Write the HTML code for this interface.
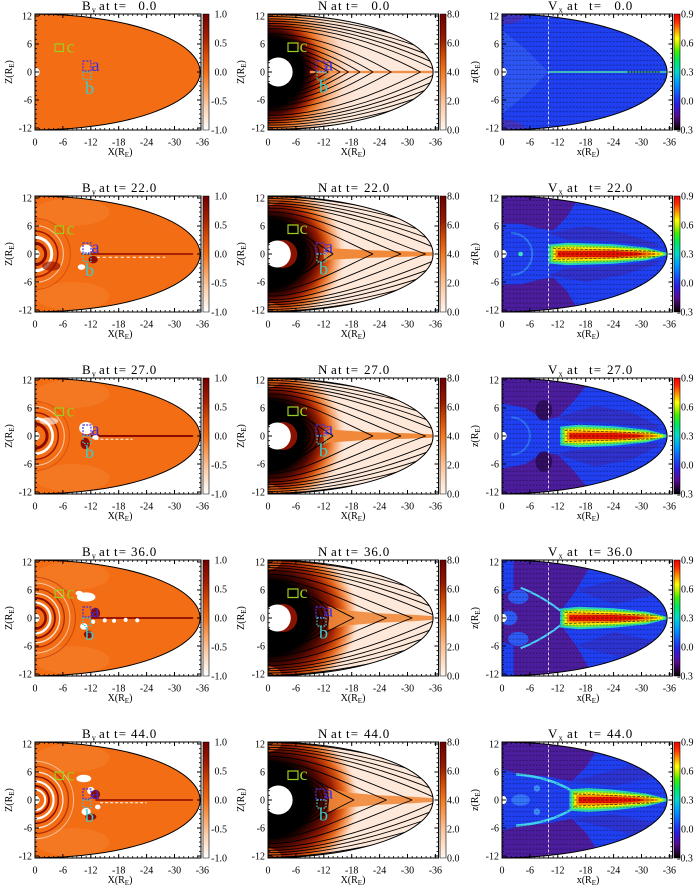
<!DOCTYPE html>
<html><head><meta charset="utf-8"><style>
html,body{margin:0;padding:0;background:#fff}
svg{display:block}
svg *{vector-effect:non-scaling-stroke}
text{font-family:"Liberation Serif","DejaVu Serif",serif;fill:#000;stroke:none}
.k{font-size:10px}
.m{text-anchor:middle}
.e{text-anchor:end}
.ti{font-size:13px;letter-spacing:1.2px}
.nu{font-size:13px;letter-spacing:0.8px;text-anchor:end}
.sb{font-size:8px;letter-spacing:0}
.lt{font-size:18px}
</style></head><body>
<svg width="700" height="885" viewBox="0 0 700 885" xmlns="http://www.w3.org/2000/svg">
<defs>
<clipPath id="ell"><path d="M0,-12.4 A35.5,12.4 0 0 1 35.5,0 A35.5,12.4 0 0 1 0,12.4 Z"/></clipPath>
<path id="ol" d="M0,-12.4 A35.5,12.4 0 0 1 35.5,0 A35.5,12.4 0 0 1 0,12.4" fill="none" stroke="#000" stroke-width="1"/>
<linearGradient id="cbBy" x1="0" y1="1" x2="0" y2="0">
<stop offset="0" stop-color="#ffffff"/><stop offset=".2" stop-color="#fcd0ae"/><stop offset=".35" stop-color="#f8a060"/><stop offset=".5" stop-color="#f36d14"/><stop offset=".65" stop-color="#d84a06"/><stop offset=".8" stop-color="#a82000"/><stop offset="1" stop-color="#700000"/>
</linearGradient>
<linearGradient id="cbN" x1="0" y1="1" x2="0" y2="0">
<stop offset="0" stop-color="#fff6f0"/><stop offset=".25" stop-color="#fbc39a"/><stop offset=".5" stop-color="#f27a22"/><stop offset=".65" stop-color="#cc4a08"/><stop offset=".8" stop-color="#961800"/><stop offset="1" stop-color="#6a0000"/>
</linearGradient>
<linearGradient id="cbV" x1="0" y1="1" x2="0" y2="0">
<stop offset="0" stop-color="#000"/><stop offset=".12" stop-color="#5a0a90"/><stop offset=".22" stop-color="#2a1ee0"/><stop offset=".28" stop-color="#1a40f5"/><stop offset=".4" stop-color="#0098ff"/><stop offset=".5" stop-color="#00d8d0"/><stop offset=".6" stop-color="#00e860"/><stop offset=".68" stop-color="#40f000"/><stop offset=".74" stop-color="#c0f000"/><stop offset=".79" stop-color="#ffff00"/><stop offset=".86" stop-color="#ff9a00"/><stop offset=".93" stop-color="#ff3000"/><stop offset="1" stop-color="#f00000"/>
</linearGradient>
<radialGradient id="n0" gradientUnits="userSpaceOnUse" cx="0" cy="0" r="20">
<stop offset="0" stop-color="#000"/><stop offset=".38" stop-color="#000"/><stop offset=".46" stop-color="#4a0500"/><stop offset=".53" stop-color="#a82600"/><stop offset=".6" stop-color="#e46a1c"/><stop offset=".7" stop-color="#f6ad7a"/><stop offset=".82" stop-color="#fcdcc8"/><stop offset="1" stop-color="#fde9dc"/>
</radialGradient>
<radialGradient id="n1" gradientUnits="userSpaceOnUse" cx="0" cy="0" r="16" gradientTransform="scale(1.05,1)">
<stop offset="0" stop-color="#000"/><stop offset=".47" stop-color="#000"/><stop offset=".58" stop-color="#4a0600"/><stop offset=".68" stop-color="#9a1e00"/><stop offset=".77" stop-color="#dc5a12"/><stop offset=".86" stop-color="#f5a066"/><stop offset=".95" stop-color="#fcdcc6"/><stop offset="1" stop-color="#fde8da"/>
</radialGradient>
<radialGradient id="n2" gradientUnits="userSpaceOnUse" cx="0" cy="0" r="17" gradientTransform="scale(1.15,1)">
<stop offset="0" stop-color="#000"/><stop offset=".47" stop-color="#000"/><stop offset=".6" stop-color="#4a0600"/><stop offset=".72" stop-color="#9a1e00"/><stop offset=".82" stop-color="#dc5a12"/><stop offset=".9" stop-color="#f5a066"/><stop offset=".97" stop-color="#fcdcc6"/><stop offset="1" stop-color="#fde8da"/>
</radialGradient>
<pattern id="arr" patternUnits="userSpaceOnUse" width="0.72" height="1"><rect x="0.1" y="0.45" width="0.38" height="0.14" fill="#000" fill-opacity="0.55"/></pattern>

<g id="fl0" fill="none" stroke="#000" stroke-width="0.9">
<g id="fl0u">
<path d="M0,-3.5 C3.71,-3.5 7.42,-1.93 10.6,0"/>
<path d="M0,-4.3 C4.55,-4.3 9.1,-2.37 13,0"/>
<path d="M0,-5.1 C5.43,-5.1 10.85,-2.81 15.5,0"/>
<path d="M0,-5.8 C6.06,-5.8 12.11,-3.19 17.3,0"/>
<path d="M0,-6.5 C6.93,-6.5 13.86,-3.58 19.8,0"/>
<path d="M0,-7.3 C7.91,-7.3 15.82,-4.02 22.6,0"/>
<path d="M0,-8.2 C9.28,-8.2 18.55,-4.51 26.5,0"/>
<path d="M0,-9.3 C11.48,-9.3 22.96,-5.12 32.8,0"/>
<path d="M0,-9.9 C12.95,-9.9 25.9,-5.45 37,0"/>
<path d="M0,-10.4 C14,-10.4 28,-5.72 40,0"/>
<path d="M0,-10.9 C15.05,-10.9 30.1,-6 43,0"/>
<path d="M0,-11.4 C16.1,-11.4 32.2,-6.27 46,0"/>
<path d="M0,-11.9 C17.5,-11.9 35,-6.55 50,0"/>
<path d="M0,-12.3 C19.25,-12.3 38.5,-6.77 55,0"/>
</g>
<use href="#fl0u" transform="scale(1,-1)"/>
</g>

<g id="fl1" fill="none" stroke="#000" stroke-width="0.9">
<g id="fl1u">
<path d="M0,0 C0.48,-2.4 4,-1.72 4,0"/>
<path d="M0,0 C0.6,-3 5,-2.15 5,0"/>
<path d="M0,0 C0.72,-3.6 6,-2.58 6,0"/>
<path d="M0,0 C0.84,-4.2 7,-3.01 7,0"/>
<path d="M0,0 C0.96,-4.8 8,-3.44 8,0"/>
<path d="M0,0 C1.08,-5.4 9,-3.87 9,0"/>
<path d="M0,0 C1.2,-6 10,-4.3 10,0"/>
<path d="M0,0 C1.32,-6.6 11,-4.73 11,0"/>
<path d="M0,-7 C4.2,-7.35 10.5,-2.1 14,0"/>
<path d="M0,-8 C6.78,-8.4 16.95,-2.4 22.6,0"/>
<path d="M0,-9 C8.58,-9.45 21.45,-2.7 28.6,0"/>
<path d="M0,-9.8 C10.17,-10.29 25.43,-2.94 33.9,0"/>
<path d="M0,-10.4 C11.7,-10.4 27.3,-5.2 39,0"/>
<path d="M0,-10.9 C12.9,-10.9 30.1,-5.45 43,0"/>
<path d="M0,-11.4 C14.1,-11.4 32.9,-5.7 47,0"/>
<path d="M0,-11.9 C15.6,-11.9 36.4,-5.95 52,0"/>
<path d="M0,-12.3 C17.4,-12.3 40.6,-6.15 58,0"/>
</g>
<use href="#fl1u" transform="scale(1,-1)"/>
</g>

<g id="fl2" fill="none" stroke="#000" stroke-width="0.9">
<g id="fl2u">
<path d="M0,0 C0.48,-2.4 4,-1.72 4,0"/>
<path d="M0,0 C0.6,-3 5,-2.15 5,0"/>
<path d="M0,0 C0.72,-3.6 6,-2.58 6,0"/>
<path d="M0,0 C0.84,-4.2 7,-3.01 7,0"/>
<path d="M0,0 C0.96,-4.8 8,-3.44 8,0"/>
<path d="M0,0 C1.08,-5.4 9,-3.87 9,0"/>
<path d="M0,0 C1.2,-6 10,-4.3 10,0"/>
<path d="M0,0 C1.32,-6.6 11,-4.73 11,0"/>
<path d="M0,0 C1.44,-7.2 12,-5.16 12,0"/>
<path d="M0,0 C1.56,-7.8 13,-5.59 13,0"/>
<path d="M0,-7 C5.55,-7.35 13.88,-2.1 18.5,0"/>
<path d="M0,-8.2 C7.65,-8.61 19.13,-2.46 25.5,0"/>
<path d="M0,-9.3 C9.3,-9.77 23.25,-2.79 31,0"/>
<path d="M0,-10.2 C11.1,-10.2 25.9,-5.1 37,0"/>
<path d="M0,-10.8 C12.3,-10.8 28.7,-5.4 41,0"/>
<path d="M0,-11.3 C13.5,-11.3 31.5,-5.65 45,0"/>
<path d="M0,-11.8 C15,-11.8 35,-5.9 50,0"/>
<path d="M0,-12.3 C16.8,-12.3 39.2,-6.15 56,0"/>
</g>
<use href="#fl2u" transform="scale(1,-1)"/>
</g>

<g id="j10">
<polygon points="10,-2 14,-2.4 24,-2.1 31,-1.4 35.4,-0.3 35.4,0.3 31,1.4 24,2.1 14,2.4 10,2" fill="#28d0c0"/>
<polygon points="10.5,-1.7 14,-2 24,-1.7 31,-1.1 35,-0.25 35,0.25 31,1.1 24,1.7 14,2 10.5,1.7" fill="#70f040"/>
<polygon points="11,-1.4 14,-1.6 24,-1.3 31,-0.8 34.5,-0.2 34.5,0.2 31,0.8 24,1.3 14,1.6 11,1.4" fill="#fff000"/>
<polygon points="11.5,-1 24,-1 30,-0.6 33,-0.15 33,0.15 30,0.6 24,1 11.5,1" fill="#ff8a00"/>
<polygon points="12,-0.6 24,-0.65 29,-0.35 31,0 29,0.35 24,0.65 12,0.6" fill="#f01400"/>
<path d="M11,-1.2 L33,-0.6 M11,1.2 L33,0.6 M11,0 L34,0" fill="none" stroke="#000" stroke-width="0.8" stroke-dasharray="3 1.5" opacity=".7"/>
</g>
<g id="j125">
<polygon points="12.5,-2 16.5,-2.4 24,-2.1 31,-1.4 35.4,-0.3 35.4,0.3 31,1.4 24,2.1 16.5,2.4 12.5,2" fill="#28d0c0"/>
<polygon points="13,-1.7 16.5,-2 24,-1.7 31,-1.1 35,-0.25 35,0.25 31,1.1 24,1.7 16.5,2 13,1.7" fill="#70f040"/>
<polygon points="13.5,-1.4 16.5,-1.6 24,-1.3 31,-0.8 34.5,-0.2 34.5,0.2 31,0.8 24,1.3 16.5,1.6 13.5,1.4" fill="#fff000"/>
<polygon points="14,-1 24,-1 30,-0.6 33,-0.15 33,0.15 30,0.6 24,1 14,1" fill="#ff8a00"/>
<polygon points="14.5,-0.6 24,-0.65 29,-0.35 31,0 29,0.35 24,0.65 14.5,0.6" fill="#f01400"/>
<path d="M13.5,-1.2 L33,-0.6 M13.5,1.2 L33,0.6 M13.5,0 L34,0" fill="none" stroke="#000" stroke-width="0.8" stroke-dasharray="3 1.5" opacity=".7"/>
</g>
<g id="j145">
<polygon points="14.5,-2.3 18.5,-2.6 24,-2.2 31,-1.4 35.4,-0.3 35.4,0.3 31,1.4 24,2.2 18.5,2.6 14.5,2.3" fill="#28d0c0"/>
<polygon points="15,-1.9 18.5,-2.1 24,-1.8 31,-1.1 35,-0.25 35,0.25 31,1.1 24,1.8 18.5,2.1 15,1.9" fill="#70f040"/>
<polygon points="15.5,-1.5 18.5,-1.7 24,-1.4 31,-0.8 34.5,-0.2 34.5,0.2 31,0.8 24,1.4 18.5,1.7 15.5,1.5" fill="#fff000"/>
<polygon points="16,-1.1 24,-1.05 30,-0.6 33,-0.15 33,0.15 30,0.6 24,1.05 16,1.1" fill="#ff8a00"/>
<polygon points="16.5,-0.65 24,-0.65 29,-0.35 31,0 29,0.35 24,0.65 16.5,0.65" fill="#f01400"/>
<path d="M15.5,-1.3 L33,-0.6 M15.5,1.3 L33,0.6 M15.5,0 L34,0" fill="none" stroke="#000" stroke-width="0.8" stroke-dasharray="3 1.5" opacity=".7"/>
</g>

<g id="fr1" fill="none" stroke="#000">
<rect x="35" y="14" width="166" height="116" stroke-width="1"/>
<path d="M34.6,15 H201 M34.6,129 H201" stroke-width="2" stroke-dasharray="0.8 3.85"/>
<path d="M34.5,16 H201 M34.5,128 H201" stroke-width="4" stroke-dasharray="1 26.9"/>
<path d="M36,15.6 V129 M200,15.6 V129" stroke-width="2" stroke-dasharray="0.8 3.867"/>
<path d="M37,15.5 V129 M199,15.5 V129" stroke-width="4" stroke-dasharray="1 27"/>
<rect x="203" y="14" width="6" height="116" fill="url(#cbBy)" stroke-width="0.6"/>
</g>
<g id="fr2" fill="none" stroke="#000">
<rect x="268" y="14" width="170.5" height="116" stroke-width="1"/>
<path d="M267.6,15 H438.5 M267.6,129 H438.5" stroke-width="2" stroke-dasharray="0.8 3.85"/>
<path d="M267.5,16 H438.5 M267.5,128 H438.5" stroke-width="4" stroke-dasharray="1 26.9"/>
<path d="M269,15.6 V129 M437.5,15.6 V129" stroke-width="2" stroke-dasharray="0.8 3.867"/>
<path d="M270,15.5 V129 M436.5,15.5 V129" stroke-width="4" stroke-dasharray="1 27"/>
<rect x="440" y="14" width="6" height="116" fill="url(#cbN)" stroke-width="0.6"/>
</g>
<g id="fr3" fill="none" stroke="#000">
<rect x="502" y="14" width="170.5" height="116" stroke-width="1"/>
<path d="M501.6,15 H672.5 M501.6,129 H672.5" stroke-width="2" stroke-dasharray="0.8 3.85"/>
<path d="M501.5,16 H672.5 M501.5,128 H672.5" stroke-width="4" stroke-dasharray="1 26.9"/>
<path d="M503,15.6 V129 M671.5,15.6 V129" stroke-width="2" stroke-dasharray="0.8 3.867"/>
<path d="M504,15.5 V129 M670.5,15.5 V129" stroke-width="4" stroke-dasharray="1 27"/>
<rect x="674" y="14" width="6" height="116" fill="url(#cbV)" stroke-width="0.6"/>
</g>
<g id="mk1">
<g fill="none" stroke-width="1.2">
<rect x="55" y="44" width="8.5" height="7.5" stroke="#9ccc1c"/>
<rect x="83" y="61" width="8" height="10" stroke="#4a30d8" stroke-dasharray="2 1.2"/>
<rect x="83" y="72" width="8" height="7.5" stroke="#40c8c8" stroke-dasharray="1.5 1.5"/>
</g>
</g>
<g id="mk2">
<g fill="none" stroke-width="1.2">
<rect x="288" y="43" width="10" height="8.5" stroke="#9ccc1c"/>
<rect x="316" y="61" width="9" height="10.5" stroke="#4a30d8" stroke-dasharray="2 1.2"/>
<rect x="317" y="72" width="9" height="8" stroke="#40c8c8" stroke-dasharray="1.5 1.5"/>
</g>
</g>
</defs>

<!-- ================= ROW 1 t=0 ================= -->
<g transform="translate(0,0)">
<g transform="translate(35,72) scale(4.65,4.667)"><g clip-path="url(#ell)">
<rect x="0" y="-13" width="37" height="26" fill="#f36d14"/>
<circle r="1" fill="#fff"/>
</g><use href="#ol"/></g>
<g transform="translate(268,72) scale(4.65,4.667)"><g clip-path="url(#ell)">
<rect x="0" y="-13" width="37" height="26" fill="url(#n0)"/>
<rect x="9" y="-0.25" width="28" height="0.5" fill="#f39048"/>
<use href="#fl0"/>
<circle cx="2.2" cy="0" r="3.1" fill="#fff"/>
</g><use href="#ol"/></g>
<g transform="translate(502,72) scale(4.65,4.667)"><g clip-path="url(#ell)">
<rect x="0" y="-13" width="37" height="26" fill="#1f3ff0"/>
<polygon points="0,-9 5,-5 10,0 5,5 0,9" fill="#3a6cf8" opacity=".5"/>
<ellipse cx="0" cy="-12.4" rx="5" ry="2.2" fill="#5a2aa0" opacity=".6"/>
<ellipse cx="0" cy="12.4" rx="5" ry="2.2" fill="#5a2aa0" opacity=".6"/>
<path d="M10,0 H35.5" fill="none" stroke="#48e0a8" stroke-width="1.4"/>
<path d="M27,0 H34" fill="none" stroke="#000" stroke-width="1" stroke-dasharray="2 1"/>
<rect x="0" y="-13" width="37" height="26" fill="url(#arr)"/>
<path d="M10,-13 V13" fill="none" stroke="#fff" stroke-width="0.9" stroke-dasharray="3 2" opacity=".85"/>
<circle r="1" fill="#fff"/>
</g><use href="#ol"/></g>
<use href="#fr1"/><use href="#fr2"/><use href="#fr3"/><use href="#mk1"/><use href="#mk2"/>
<text class="lt" x="66.5" y="52.5" style="fill:#9ccc1c">c</text><text class="lt" x="91.5" y="71" style="fill:#3a2ee0">a</text><text class="lt" x="85" y="94" style="fill:#3ccccc">b</text>
<text class="lt" x="299.5" y="52" style="fill:#9ccc1c">c</text><text class="lt" x="325" y="70.5" style="fill:#3a2ee0">a</text><text class="lt" x="319" y="92.5" style="fill:#3ccccc">b</text>
<text class="ti" x="82" y="10">B<tspan class="sb" dy="2.5">y</tspan><tspan dy="-2.5" x="99">at</tspan><tspan x="114">t=</tspan></text><text class="nu" x="157" y="10">0.0</text>
<text class="ti" x="318" y="10">N<tspan x="331">at</tspan><tspan x="346">t=</tspan></text><text class="nu" x="390" y="10">0.0</text>
<text class="ti" x="548" y="10">V<tspan class="sb" dy="2.5">x</tspan><tspan dy="-2.5" x="567">at</tspan><tspan x="589">t=</tspan></text><text class="nu" x="633" y="10">0.0</text>
<g class="k">
<text class="m" x="35" y="145.5">0</text><text class="m" x="62.9" y="145.5">-6</text><text class="m" x="90.8" y="145.5">-12</text><text class="m" x="118.7" y="145.5">-18</text><text class="m" x="146.6" y="145.5">-24</text><text class="m" x="174.5" y="145.5">-30</text><text class="m" x="202.4" y="145.5">-36</text>
<text class="e" x="32" y="19.5">12</text><text class="e" x="32" y="47.5">6</text><text class="e" x="32" y="75.5">0</text><text class="e" x="32" y="103.5">-6</text><text class="e" x="32" y="131.5">-12</text>
<text class="e" x="227" y="17.5">1.0</text><text class="e" x="227" y="46.5">0.5</text><text class="e" x="227" y="75.5">0.0</text><text class="e" x="227" y="104.5">-0.5</text><text class="e" x="227" y="133.5">-1.0</text>
<text class="m" x="120" y="155">X(R<tspan font-size="7" dy="2">E</tspan><tspan dy="-2">)</tspan></text>
<text class="m" transform="translate(12,72) rotate(-90)">Z(R<tspan font-size="7" dy="2">E</tspan><tspan dy="-2">)</tspan></text>
<text class="m" x="268" y="145.5">0</text><text class="m" x="295.9" y="145.5">-6</text><text class="m" x="323.8" y="145.5">-12</text><text class="m" x="351.7" y="145.5">-18</text><text class="m" x="379.6" y="145.5">-24</text><text class="m" x="407.5" y="145.5">-30</text><text class="m" x="435.4" y="145.5">-36</text>
<text class="e" x="265" y="19.5">12</text><text class="e" x="265" y="47.5">6</text><text class="e" x="265" y="75.5">0</text><text class="e" x="265" y="103.5">-6</text><text class="e" x="265" y="131.5">-12</text>
<text x="447" y="17.5">8.0</text><text x="447" y="46.5">6.0</text><text x="447" y="75.5">4.0</text><text x="447" y="104.5">2.0</text><text x="447" y="133.5">0.0</text>
<text class="m" x="353" y="155">X(R<tspan font-size="7" dy="2">E</tspan><tspan dy="-2">)</tspan></text>
<text class="m" transform="translate(244,72) rotate(-90)">Z(R<tspan font-size="7" dy="2">E</tspan><tspan dy="-2">)</tspan></text>
<text class="m" x="502" y="145.5">0</text><text class="m" x="529.9" y="145.5">-6</text><text class="m" x="557.8" y="145.5">-12</text><text class="m" x="585.7" y="145.5">-18</text><text class="m" x="613.6" y="145.5">-24</text><text class="m" x="641.5" y="145.5">-30</text><text class="m" x="669.4" y="145.5">-36</text>
<text class="e" x="499" y="19.5">12</text><text class="e" x="499" y="47.5">6</text><text class="e" x="499" y="75.5">0</text><text class="e" x="499" y="103.5">-6</text><text class="e" x="499" y="131.5">-12</text>
<text x="681" y="17.5">0.9</text><text x="681" y="46.5">0.6</text><text x="681" y="75.5">0.3</text><text x="681" y="104.5">0.0</text><text x="677" y="133.5">-0.3</text>
<text class="m" x="588" y="155">x(R<tspan font-size="7" dy="2">E</tspan><tspan dy="-2">)</tspan></text>
<text class="m" transform="translate(478,72) rotate(-90)">z(R<tspan font-size="7" dy="2">E</tspan><tspan dy="-2">)</tspan></text>
</g>
</g>

<!-- ================= ROW 2 t=22 ================= -->
<g transform="translate(0,182)">
<g transform="translate(35,72) scale(4.65,4.667)"><g clip-path="url(#ell)">
<rect x="0" y="-13" width="37" height="26" fill="#f36d14"/>
<ellipse cx="8" cy="-9" rx="8" ry="3" fill="#f58a3c" opacity=".35"/>
<ellipse cx="8" cy="9" rx="8" ry="3" fill="#f58a3c" opacity=".35"/>
<g fill="none">
<path d="M0,-2.3A2.3,2.3 0 0 1 0,2.3" stroke="#8c0a00" stroke-width="3"/>
<path d="M0,-3.6A3.6,3.6 0 0 1 0,3.6" stroke="#fff" stroke-width="3"/>
<path d="M0,-4.9A4.9,4.9 0 0 1 0,4.9" stroke="#a01800" stroke-width="1.6"/>
<path d="M0,-6.1A6.1,6.1 0 0 1 0,6.1" stroke="#fff" stroke-width="1.1" opacity=".6"/>
<path d="M0,-7.6A7.6,7.6 0 0 1 0,7.6" stroke="#c03000" stroke-width="1" opacity=".5"/>
<path d="M10,0H34" stroke="#8c0a00" stroke-width="1.6"/>
<path d="M12,0.7H28" stroke="#fff" stroke-width="1" stroke-dasharray="3 3"/>
</g>
<ellipse cx="11" cy="-1" rx="1.3" ry="1" fill="#fff"/>
<ellipse cx="12.5" cy="1.2" rx="1" ry="0.8" fill="#8c0a00"/>
<ellipse cx="10" cy="2.8" rx="0.8" ry="0.6" fill="#fff"/>
<ellipse cx="3.5" cy="2.6" rx="2" ry="1" fill="#9a1400" opacity=".7"/>
<circle r="1" fill="#fff"/>
</g><use href="#ol"/></g>
<g transform="translate(268,72) scale(4.65,4.667)"><g clip-path="url(#ell)">
<rect x="0" y="-13" width="37" height="26" fill="url(#n1)"/>
<ellipse cx="0" cy="-12.4" rx="3" ry="2" fill="#e06018" opacity=".8"/>
<ellipse cx="0" cy="12.4" rx="3" ry="2" fill="#e06018" opacity=".8"/>
<polygon points="12,-1.3 16,-1.1 22,-0.8 30,-0.6 35.5,-0.35 35.5,0.35 30,0.6 22,0.8 16,1.1 12,1.3" fill="#f08a3a"/>
<use href="#fl1"/>
<circle cx="3.3" cy="0" r="3" fill="#8a1200"/>
<circle cx="2" cy="0" r="2.9" fill="#fff"/>
</g><use href="#ol"/></g>
<g transform="translate(502,72) scale(4.65,4.667)"><g clip-path="url(#ell)">
<rect x="0" y="-13" width="37" height="26" fill="#1f3ff0"/>
<path d="M0,-13H17L14,-8L11,-5L8,-5.5L4,-6.5L0,-6.5Z" fill="#4b1d9c"/>
<path d="M0,13H17L14,8L11,5L8,5.5L4,6.5L0,6.5Z" fill="#4b1d9c"/>
<path d="M10,-4.5L18,-6L26,-4.5L34,-2L33,-1.5L24,-2.6L14,-3Z" fill="#3a28b0" opacity=".6"/>
<path d="M10,4.5L18,6L26,4.5L34,2L33,1.5L24,2.6L14,3Z" fill="#3a28b0" opacity=".6"/>
<path d="M2,-4.5A4.5,4.5 0 0 1 2,4.5" fill="none" stroke="#3aa0ff" stroke-width="2" opacity=".6"/>
<circle cx="4" cy="0" r=".5" fill="#40e0c0"/>
<use href="#j10"/>
<rect x="0" y="-13" width="37" height="26" fill="url(#arr)"/>
<path d="M10,-13 V13" fill="none" stroke="#fff" stroke-width="0.9" stroke-dasharray="3 2" opacity=".85"/>
<circle r="1" fill="#fff"/>
</g><use href="#ol"/></g>
<use href="#fr1"/><use href="#fr2"/><use href="#fr3"/><use href="#mk1"/><use href="#mk2"/>
<text class="lt" x="66.5" y="52.5" style="fill:#9ccc1c">c</text><text class="lt" x="91.5" y="71" style="fill:#3a2ee0">a</text><text class="lt" x="85" y="94" style="fill:#3ccccc">b</text>
<text class="lt" x="299.5" y="52" style="fill:#9ccc1c">c</text><text class="lt" x="325" y="70.5" style="fill:#3a2ee0">a</text><text class="lt" x="319" y="92.5" style="fill:#3ccccc">b</text>
<text class="ti" x="82" y="10">B<tspan class="sb" dy="2.5">y</tspan><tspan dy="-2.5" x="99">at</tspan><tspan x="114">t=</tspan></text><text class="nu" x="157" y="10">22.0</text>
<text class="ti" x="318" y="10">N<tspan x="331">at</tspan><tspan x="346">t=</tspan></text><text class="nu" x="390" y="10">22.0</text>
<text class="ti" x="548" y="10">V<tspan class="sb" dy="2.5">x</tspan><tspan dy="-2.5" x="567">at</tspan><tspan x="589">t=</tspan></text><text class="nu" x="633" y="10">22.0</text>
<g class="k">
<text class="m" x="35" y="145.5">0</text><text class="m" x="62.9" y="145.5">-6</text><text class="m" x="90.8" y="145.5">-12</text><text class="m" x="118.7" y="145.5">-18</text><text class="m" x="146.6" y="145.5">-24</text><text class="m" x="174.5" y="145.5">-30</text><text class="m" x="202.4" y="145.5">-36</text>
<text class="e" x="32" y="19.5">12</text><text class="e" x="32" y="47.5">6</text><text class="e" x="32" y="75.5">0</text><text class="e" x="32" y="103.5">-6</text><text class="e" x="32" y="131.5">-12</text>
<text class="e" x="227" y="17.5">1.0</text><text class="e" x="227" y="46.5">0.5</text><text class="e" x="227" y="75.5">0.0</text><text class="e" x="227" y="104.5">-0.5</text><text class="e" x="227" y="133.5">-1.0</text>
<text class="m" x="120" y="155">X(R<tspan font-size="7" dy="2">E</tspan><tspan dy="-2">)</tspan></text>
<text class="m" transform="translate(12,72) rotate(-90)">Z(R<tspan font-size="7" dy="2">E</tspan><tspan dy="-2">)</tspan></text>
<text class="m" x="268" y="145.5">0</text><text class="m" x="295.9" y="145.5">-6</text><text class="m" x="323.8" y="145.5">-12</text><text class="m" x="351.7" y="145.5">-18</text><text class="m" x="379.6" y="145.5">-24</text><text class="m" x="407.5" y="145.5">-30</text><text class="m" x="435.4" y="145.5">-36</text>
<text class="e" x="265" y="19.5">12</text><text class="e" x="265" y="47.5">6</text><text class="e" x="265" y="75.5">0</text><text class="e" x="265" y="103.5">-6</text><text class="e" x="265" y="131.5">-12</text>
<text x="447" y="17.5">8.0</text><text x="447" y="46.5">6.0</text><text x="447" y="75.5">4.0</text><text x="447" y="104.5">2.0</text><text x="447" y="133.5">0.0</text>
<text class="m" x="353" y="155">X(R<tspan font-size="7" dy="2">E</tspan><tspan dy="-2">)</tspan></text>
<text class="m" transform="translate(244,72) rotate(-90)">Z(R<tspan font-size="7" dy="2">E</tspan><tspan dy="-2">)</tspan></text>
<text class="m" x="502" y="145.5">0</text><text class="m" x="529.9" y="145.5">-6</text><text class="m" x="557.8" y="145.5">-12</text><text class="m" x="585.7" y="145.5">-18</text><text class="m" x="613.6" y="145.5">-24</text><text class="m" x="641.5" y="145.5">-30</text><text class="m" x="669.4" y="145.5">-36</text>
<text class="e" x="499" y="19.5">12</text><text class="e" x="499" y="47.5">6</text><text class="e" x="499" y="75.5">0</text><text class="e" x="499" y="103.5">-6</text><text class="e" x="499" y="131.5">-12</text>
<text x="681" y="17.5">0.9</text><text x="681" y="46.5">0.6</text><text x="681" y="75.5">0.3</text><text x="681" y="104.5">0.0</text><text x="677" y="133.5">-0.3</text>
<text class="m" x="588" y="155">x(R<tspan font-size="7" dy="2">E</tspan><tspan dy="-2">)</tspan></text>
<text class="m" transform="translate(478,72) rotate(-90)">z(R<tspan font-size="7" dy="2">E</tspan><tspan dy="-2">)</tspan></text>
</g>
</g>

<!-- ================= ROW 3 t=27 ================= -->
<g transform="translate(0,364)">
<g transform="translate(35,72) scale(4.65,4.667)"><g clip-path="url(#ell)">
<rect x="0" y="-13" width="37" height="26" fill="#f36d14"/>
<ellipse cx="8" cy="-9" rx="8" ry="3" fill="#f58a3c" opacity=".35"/>
<ellipse cx="8" cy="9" rx="8" ry="3" fill="#f58a3c" opacity=".35"/>
<g fill="none">
<path d="M0,-2.6A2.6,2.6 0 0 1 0,2.6" stroke="#8c0a00" stroke-width="3"/>
<path d="M0,-3.8A3.8,3.8 0 0 1 0,3.8" stroke="#fff" stroke-width="2.6"/>
<path d="M0,-5A5,5 0 0 1 0,5" stroke="#a01800" stroke-width="1.5"/>
<path d="M0,-6.3A6.3,6.3 0 0 1 0,6.3" stroke="#fff" stroke-width="1.1" opacity=".6"/>
<path d="M0,-7.4A7.4,7.4 0 0 1 0,7.4" stroke="#c03000" stroke-width="1" opacity=".45"/>
<path d="M12,0H34" stroke="#8c0a00" stroke-width="2"/>
<path d="M13,0.7H21" stroke="#fff" stroke-width="1" stroke-dasharray="3 2"/>
</g>
<ellipse cx="11" cy="-1.7" rx="1.5" ry="1.3" fill="#fff"/>
<ellipse cx="10.8" cy="1.6" rx="1" ry="1.2" fill="#8c0a00"/>
<ellipse cx="13" cy="0.3" rx=".7" ry=".5" fill="#fff"/>
<ellipse cx="3" cy="-3.2" rx="2" ry=".8" fill="#fff" opacity=".6"/>
<circle r="1" fill="#fff"/>
</g><use href="#ol"/></g>
<g transform="translate(268,72) scale(4.65,4.667)"><g clip-path="url(#ell)">
<rect x="0" y="-13" width="37" height="26" fill="url(#n1)"/>
<ellipse cx="0" cy="-12.4" rx="3" ry="2" fill="#e06018" opacity=".8"/>
<ellipse cx="0" cy="12.4" rx="3" ry="2" fill="#e06018" opacity=".8"/>
<polygon points="12,-1.5 16,-1.2 22,-0.8 30,-0.6 35.5,-0.35 35.5,0.35 30,0.6 22,0.8 16,1.2 12,1.5" fill="#f08a3a"/>
<use href="#fl1"/>
<circle cx="3.3" cy="0" r="3" fill="#8a1200"/>
<circle cx="2" cy="0" r="2.9" fill="#fff"/>
</g><use href="#ol"/></g>
<g transform="translate(502,72) scale(4.65,4.667)"><g clip-path="url(#ell)">
<rect x="0" y="-13" width="37" height="26" fill="#1f3ff0"/>
<path d="M0,-13H20L15,-7L12,-4L9,-3.5L5,-6L0,-7Z" fill="#4b1d9c"/>
<path d="M0,13H20L15,7L12,4L9,3.5L5,6L0,7Z" fill="#4b1d9c"/>
<ellipse cx="9" cy="-5.5" rx="1.8" ry="2.2" fill="#2a0a50" opacity=".8"/>
<ellipse cx="9" cy="5.5" rx="1.8" ry="2.2" fill="#2a0a50" opacity=".8"/>
<path d="M12,-4L20,-6.5L28,-5L34,-2L33,-1.5L24,-2.6L15,-3Z" fill="#3a28b0" opacity=".6"/>
<path d="M12,4L20,6.5L28,5L34,2L33,1.5L24,2.6L15,3Z" fill="#3a28b0" opacity=".6"/>
<path d="M2,-4A4,4 0 0 1 2,4" fill="none" stroke="#3aa0ff" stroke-width="2" opacity=".5"/>
<use href="#j125"/>
<rect x="0" y="-13" width="37" height="26" fill="url(#arr)"/>
<path d="M10,-13 V13" fill="none" stroke="#fff" stroke-width="0.9" stroke-dasharray="3 2" opacity=".85"/>
<circle r="1" fill="#fff"/>
</g><use href="#ol"/></g>
<use href="#fr1"/><use href="#fr2"/><use href="#fr3"/><use href="#mk1"/><use href="#mk2"/>
<text class="lt" x="66.5" y="52.5" style="fill:#9ccc1c">c</text><text class="lt" x="91.5" y="71" style="fill:#3a2ee0">a</text><text class="lt" x="85" y="94" style="fill:#3ccccc">b</text>
<text class="lt" x="299.5" y="52" style="fill:#9ccc1c">c</text><text class="lt" x="325" y="70.5" style="fill:#3a2ee0">a</text><text class="lt" x="319" y="92.5" style="fill:#3ccccc">b</text>
<text class="ti" x="82" y="10">B<tspan class="sb" dy="2.5">y</tspan><tspan dy="-2.5" x="99">at</tspan><tspan x="114">t=</tspan></text><text class="nu" x="157" y="10">27.0</text>
<text class="ti" x="318" y="10">N<tspan x="331">at</tspan><tspan x="346">t=</tspan></text><text class="nu" x="390" y="10">27.0</text>
<text class="ti" x="548" y="10">V<tspan class="sb" dy="2.5">x</tspan><tspan dy="-2.5" x="567">at</tspan><tspan x="589">t=</tspan></text><text class="nu" x="633" y="10">27.0</text>
<g class="k">
<text class="m" x="35" y="145.5">0</text><text class="m" x="62.9" y="145.5">-6</text><text class="m" x="90.8" y="145.5">-12</text><text class="m" x="118.7" y="145.5">-18</text><text class="m" x="146.6" y="145.5">-24</text><text class="m" x="174.5" y="145.5">-30</text><text class="m" x="202.4" y="145.5">-36</text>
<text class="e" x="32" y="19.5">12</text><text class="e" x="32" y="47.5">6</text><text class="e" x="32" y="75.5">0</text><text class="e" x="32" y="103.5">-6</text><text class="e" x="32" y="131.5">-12</text>
<text class="e" x="227" y="17.5">1.0</text><text class="e" x="227" y="46.5">0.5</text><text class="e" x="227" y="75.5">0.0</text><text class="e" x="227" y="104.5">-0.5</text><text class="e" x="227" y="133.5">-1.0</text>
<text class="m" x="120" y="155">X(R<tspan font-size="7" dy="2">E</tspan><tspan dy="-2">)</tspan></text>
<text class="m" transform="translate(12,72) rotate(-90)">Z(R<tspan font-size="7" dy="2">E</tspan><tspan dy="-2">)</tspan></text>
<text class="m" x="268" y="145.5">0</text><text class="m" x="295.9" y="145.5">-6</text><text class="m" x="323.8" y="145.5">-12</text><text class="m" x="351.7" y="145.5">-18</text><text class="m" x="379.6" y="145.5">-24</text><text class="m" x="407.5" y="145.5">-30</text><text class="m" x="435.4" y="145.5">-36</text>
<text class="e" x="265" y="19.5">12</text><text class="e" x="265" y="47.5">6</text><text class="e" x="265" y="75.5">0</text><text class="e" x="265" y="103.5">-6</text><text class="e" x="265" y="131.5">-12</text>
<text x="447" y="17.5">8.0</text><text x="447" y="46.5">6.0</text><text x="447" y="75.5">4.0</text><text x="447" y="104.5">2.0</text><text x="447" y="133.5">0.0</text>
<text class="m" x="353" y="155">X(R<tspan font-size="7" dy="2">E</tspan><tspan dy="-2">)</tspan></text>
<text class="m" transform="translate(244,72) rotate(-90)">Z(R<tspan font-size="7" dy="2">E</tspan><tspan dy="-2">)</tspan></text>
<text class="m" x="502" y="145.5">0</text><text class="m" x="529.9" y="145.5">-6</text><text class="m" x="557.8" y="145.5">-12</text><text class="m" x="585.7" y="145.5">-18</text><text class="m" x="613.6" y="145.5">-24</text><text class="m" x="641.5" y="145.5">-30</text><text class="m" x="669.4" y="145.5">-36</text>
<text class="e" x="499" y="19.5">12</text><text class="e" x="499" y="47.5">6</text><text class="e" x="499" y="75.5">0</text><text class="e" x="499" y="103.5">-6</text><text class="e" x="499" y="131.5">-12</text>
<text x="681" y="17.5">0.9</text><text x="681" y="46.5">0.6</text><text x="681" y="75.5">0.3</text><text x="681" y="104.5">0.0</text><text x="677" y="133.5">-0.3</text>
<text class="m" x="588" y="155">x(R<tspan font-size="7" dy="2">E</tspan><tspan dy="-2">)</tspan></text>
<text class="m" transform="translate(478,72) rotate(-90)">z(R<tspan font-size="7" dy="2">E</tspan><tspan dy="-2">)</tspan></text>
</g>
</g>

<!-- ================= ROW 4 t=36 ================= -->
<g transform="translate(0,546)">
<g transform="translate(35,72) scale(4.65,4.667)"><g clip-path="url(#ell)">
<rect x="0" y="-13" width="37" height="26" fill="#f36d14"/>
<ellipse cx="8" cy="-9" rx="8" ry="3" fill="#f58a3c" opacity=".35"/>
<ellipse cx="8" cy="9" rx="8" ry="3" fill="#f58a3c" opacity=".35"/>
<g fill="none">
<path d="M0,-2.3A2.3,2.3 0 0 1 0,2.3" stroke="#8c0a00" stroke-width="2.5"/>
<path d="M0,-3.3A3.3,3.3 0 0 1 0,3.3" stroke="#fff" stroke-width="2.3"/>
<path d="M0,-4.3A4.3,4.3 0 0 1 0,4.3" stroke="#8c0a00" stroke-width="1.8"/>
<path d="M0,-5.3A5.3,5.3 0 0 1 0,5.3" stroke="#fff" stroke-width="1.3" opacity=".85"/>
<path d="M0,-6.3A6.3,6.3 0 0 1 0,6.3" stroke="#a01800" stroke-width="1.3" opacity=".8"/>
<path d="M0,-7.5A7.5,7.5 0 0 1 0,7.5" stroke="#fff" stroke-width="1" opacity=".6"/>
<path d="M0,-8.7A8.7,8.7 0 0 1 0,8.7" stroke="#a01800" stroke-width="1" opacity=".45"/>
<path d="M12,0H34" stroke="#8c0a00" stroke-width="1.8"/>
</g>
<ellipse cx="11" cy="-4.5" rx="2" ry="1" fill="#fff"/>
<ellipse cx="9.5" cy="-5.3" rx=".8" ry=".5" fill="#fff"/>
<ellipse cx="13" cy="-1" rx="1" ry="1.2" fill="#8c0a00"/>
<ellipse cx="10.5" cy="1.8" rx=".8" ry=".7" fill="#fff"/>
<ellipse cx="11.5" cy="3.5" rx="1" ry=".8" fill="#8c0a00"/>
<circle cx="12.5" cy="0.8" r=".45" fill="#fff"/><circle cx="15" cy="0.5" r=".45" fill="#fff"/><circle cx="17" cy="0.6" r=".45" fill="#fff"/><circle cx="19.5" cy="0.4" r=".45" fill="#fff"/><circle cx="22" cy="0.5" r=".45" fill="#fff"/>
<circle r="1" fill="#fff"/>
</g><use href="#ol"/></g>
<g transform="translate(268,72) scale(4.65,4.667)"><g clip-path="url(#ell)">
<rect x="0" y="-13" width="37" height="26" fill="url(#n2)"/>
<ellipse cx="0" cy="-12.4" rx="3" ry="2" fill="#e06018" opacity=".8"/>
<ellipse cx="0" cy="12.4" rx="3" ry="2" fill="#e06018" opacity=".8"/>
<polygon points="13,-2.5 17,-1.6 24,-1 31,-0.7 35.5,-0.4 35.5,0.4 31,0.7 24,1 17,1.6 13,2.5" fill="#f08a3a" opacity=".9"/>
<use href="#fl2"/>
<circle cx="3.3" cy="0" r="3" fill="#8a1200"/>
<circle cx="2" cy="0" r="2.9" fill="#fff"/>
</g><use href="#ol"/></g>
<g transform="translate(502,72) scale(4.65,4.667)"><g clip-path="url(#ell)">
<rect x="0" y="-13" width="37" height="26" fill="#1f3ff0"/>
<path d="M2.5,-13H20L16,-6L13,-2L13,2L16,6L20,13H2.5L2.5,6L0,5L0,-5L2.5,-6Z" fill="#4b1d9c"/>
<ellipse cx="3.5" cy="-4.5" rx="2.2" ry="1.5" fill="#2d5af5"/>
<ellipse cx="3.5" cy="4.5" rx="2.2" ry="1.5" fill="#2d5af5"/>
<ellipse cx="1.5" cy="0" rx="1.8" ry="1.6" fill="#2d5af5"/>
<path d="M16,-6L28,-9L33,-5L24,-3Z" fill="#3a28b0" opacity=".5"/>
<path d="M16,6L28,9L33,5L24,3Z" fill="#3a28b0" opacity=".5"/>
<path d="M13,-1.2Q9,-4.5 4,-6.5" fill="none" stroke="#4ad0ff" stroke-width="2"/>
<path d="M13,1.2Q9,4.5 4,6.5" fill="none" stroke="#4ad0ff" stroke-width="2"/>
<use href="#j125"/>
<rect x="0" y="-13" width="37" height="26" fill="url(#arr)"/>
<path d="M10,-13 V13" fill="none" stroke="#fff" stroke-width="0.9" stroke-dasharray="3 2" opacity=".85"/>
<circle r="1" fill="#fff"/>
</g><use href="#ol"/></g>
<use href="#fr1"/><use href="#fr2"/><use href="#fr3"/><use href="#mk1"/><use href="#mk2"/>
<text class="lt" x="66.5" y="52.5" style="fill:#9ccc1c">c</text><text class="lt" x="91.5" y="71" style="fill:#3a2ee0">a</text><text class="lt" x="85" y="94" style="fill:#3ccccc">b</text>
<text class="lt" x="299.5" y="52" style="fill:#9ccc1c">c</text><text class="lt" x="325" y="70.5" style="fill:#3a2ee0">a</text><text class="lt" x="319" y="92.5" style="fill:#3ccccc">b</text>
<text class="ti" x="82" y="10">B<tspan class="sb" dy="2.5">y</tspan><tspan dy="-2.5" x="99">at</tspan><tspan x="114">t=</tspan></text><text class="nu" x="157" y="10">36.0</text>
<text class="ti" x="318" y="10">N<tspan x="331">at</tspan><tspan x="346">t=</tspan></text><text class="nu" x="390" y="10">36.0</text>
<text class="ti" x="548" y="10">V<tspan class="sb" dy="2.5">x</tspan><tspan dy="-2.5" x="567">at</tspan><tspan x="589">t=</tspan></text><text class="nu" x="633" y="10">36.0</text>
<g class="k">
<text class="m" x="35" y="145.5">0</text><text class="m" x="62.9" y="145.5">-6</text><text class="m" x="90.8" y="145.5">-12</text><text class="m" x="118.7" y="145.5">-18</text><text class="m" x="146.6" y="145.5">-24</text><text class="m" x="174.5" y="145.5">-30</text><text class="m" x="202.4" y="145.5">-36</text>
<text class="e" x="32" y="19.5">12</text><text class="e" x="32" y="47.5">6</text><text class="e" x="32" y="75.5">0</text><text class="e" x="32" y="103.5">-6</text><text class="e" x="32" y="131.5">-12</text>
<text class="e" x="227" y="17.5">1.0</text><text class="e" x="227" y="46.5">0.5</text><text class="e" x="227" y="75.5">0.0</text><text class="e" x="227" y="104.5">-0.5</text><text class="e" x="227" y="133.5">-1.0</text>
<text class="m" x="120" y="155">X(R<tspan font-size="7" dy="2">E</tspan><tspan dy="-2">)</tspan></text>
<text class="m" transform="translate(12,72) rotate(-90)">Z(R<tspan font-size="7" dy="2">E</tspan><tspan dy="-2">)</tspan></text>
<text class="m" x="268" y="145.5">0</text><text class="m" x="295.9" y="145.5">-6</text><text class="m" x="323.8" y="145.5">-12</text><text class="m" x="351.7" y="145.5">-18</text><text class="m" x="379.6" y="145.5">-24</text><text class="m" x="407.5" y="145.5">-30</text><text class="m" x="435.4" y="145.5">-36</text>
<text class="e" x="265" y="19.5">12</text><text class="e" x="265" y="47.5">6</text><text class="e" x="265" y="75.5">0</text><text class="e" x="265" y="103.5">-6</text><text class="e" x="265" y="131.5">-12</text>
<text x="447" y="17.5">8.0</text><text x="447" y="46.5">6.0</text><text x="447" y="75.5">4.0</text><text x="447" y="104.5">2.0</text><text x="447" y="133.5">0.0</text>
<text class="m" x="353" y="155">X(R<tspan font-size="7" dy="2">E</tspan><tspan dy="-2">)</tspan></text>
<text class="m" transform="translate(244,72) rotate(-90)">Z(R<tspan font-size="7" dy="2">E</tspan><tspan dy="-2">)</tspan></text>
<text class="m" x="502" y="145.5">0</text><text class="m" x="529.9" y="145.5">-6</text><text class="m" x="557.8" y="145.5">-12</text><text class="m" x="585.7" y="145.5">-18</text><text class="m" x="613.6" y="145.5">-24</text><text class="m" x="641.5" y="145.5">-30</text><text class="m" x="669.4" y="145.5">-36</text>
<text class="e" x="499" y="19.5">12</text><text class="e" x="499" y="47.5">6</text><text class="e" x="499" y="75.5">0</text><text class="e" x="499" y="103.5">-6</text><text class="e" x="499" y="131.5">-12</text>
<text x="681" y="17.5">0.9</text><text x="681" y="46.5">0.6</text><text x="681" y="75.5">0.3</text><text x="681" y="104.5">0.0</text><text x="677" y="133.5">-0.3</text>
<text class="m" x="588" y="155">x(R<tspan font-size="7" dy="2">E</tspan><tspan dy="-2">)</tspan></text>
<text class="m" transform="translate(478,72) rotate(-90)">z(R<tspan font-size="7" dy="2">E</tspan><tspan dy="-2">)</tspan></text>
</g>
</g>

<!-- ================= ROW 5 t=44 ================= -->
<g transform="translate(0,728)">
<g transform="translate(35,72) scale(4.65,4.667)"><g clip-path="url(#ell)">
<rect x="0" y="-13" width="37" height="26" fill="#f36d14"/>
<ellipse cx="8" cy="-9" rx="8" ry="3" fill="#f58a3c" opacity=".35"/>
<ellipse cx="8" cy="9" rx="8" ry="3" fill="#f58a3c" opacity=".35"/>
<g fill="none">
<path d="M0,-2.2A2.2,2.2 0 0 1 0,2.2" stroke="#fff" stroke-width="2"/>
<path d="M0,-3A3,3 0 0 1 0,3" stroke="#8c0a00" stroke-width="2"/>
<path d="M0,-4A4,4 0 0 1 0,4" stroke="#fff" stroke-width="2.2"/>
<path d="M0,-5A5,5 0 0 1 0,5" stroke="#8c0a00" stroke-width="1.4"/>
<path d="M0,-6A6,6 0 0 1 0,6" stroke="#fff" stroke-width="1.3" opacity=".85"/>
<path d="M0,-7.2A7.2,7.2 0 0 1 0,7.2" stroke="#a01800" stroke-width="1.3" opacity=".7"/>
<path d="M0,-8.3A8.3,8.3 0 0 1 0,8.3" stroke="#fff" stroke-width="1" opacity=".55"/>
<path d="M13,0H34" stroke="#8c0a00" stroke-width="1.6"/>
<path d="M14,0.6H24" stroke="#fff" stroke-width="1" stroke-dasharray="3 2"/>
</g>
<ellipse cx="10.5" cy="-4.6" rx="1.6" ry=".8" fill="#fff"/>
<ellipse cx="12" cy="-2" rx=".8" ry=".8" fill="#fff"/>
<ellipse cx="11" cy="2.5" rx="1" ry=".8" fill="#fff"/>
<ellipse cx="13.5" cy="1.5" rx=".6" ry=".5" fill="#fff"/>
<ellipse cx="13" cy="-1.2" rx="1" ry="1" fill="#8c0a00"/>
<ellipse cx="12" cy="3.6" rx="1.2" ry=".7" fill="#8c0a00"/>
<circle r="1" fill="#fff"/>
</g><use href="#ol"/></g>
<g transform="translate(268,72) scale(4.65,4.667)"><g clip-path="url(#ell)">
<rect x="0" y="-13" width="37" height="26" fill="url(#n2)"/>
<ellipse cx="0" cy="-12.4" rx="3" ry="2" fill="#e06018" opacity=".8"/>
<ellipse cx="0" cy="12.4" rx="3" ry="2" fill="#e06018" opacity=".8"/>
<polygon points="13,-2.5 17,-1.6 24,-1 31,-0.7 35.5,-0.4 35.5,0.4 31,0.7 24,1 17,1.6 13,2.5" fill="#f08a3a" opacity=".9"/>
<use href="#fl2"/>
<circle cx="2.2" cy="0" r="3.1" fill="#fff"/>
</g><use href="#ol"/></g>
<g transform="translate(502,72) scale(4.65,4.667)"><g clip-path="url(#ell)">
<rect x="0" y="-13" width="37" height="26" fill="#1f3ff0"/>
<path d="M0,-13H22L18,-7L15,-4L10,-5L4,-5.5L0,-6.5Z" fill="#4b1d9c"/>
<path d="M0,13H22L18,7L15,4L10,5L4,5.5L0,6.5Z" fill="#4b1d9c"/>
<path d="M15,-4L30,-8L33,-5L24,-3Z" fill="#3a28b0" opacity=".5"/>
<path d="M15,4L30,8L33,5L24,3Z" fill="#3a28b0" opacity=".5"/>
<ellipse cx="4" cy="0" rx="2" ry="1.2" fill="#3c8cff" opacity=".7"/>
<circle cx="7.5" cy="-2.5" r=".7" fill="#3c8cff"/>
<circle cx="7.5" cy="2.5" r=".7" fill="#3c8cff"/>
<path d="M15,-2Q10,-5 3,-5.5" fill="none" stroke="#40d0f0" stroke-width="2.5"/>
<path d="M15,2Q10,5 3,5.5" fill="none" stroke="#40d0f0" stroke-width="2.5"/>
<use href="#j145"/>
<rect x="0" y="-13" width="37" height="26" fill="url(#arr)"/>
<path d="M10,-13 V13" fill="none" stroke="#fff" stroke-width="0.9" stroke-dasharray="3 2" opacity=".85"/>
<circle r="1" fill="#fff"/>
</g><use href="#ol"/></g>
<use href="#fr1"/><use href="#fr2"/><use href="#fr3"/><use href="#mk1"/><use href="#mk2"/>
<text class="lt" x="66.5" y="52.5" style="fill:#9ccc1c">c</text><text class="lt" x="91.5" y="71" style="fill:#3a2ee0">a</text><text class="lt" x="85" y="94" style="fill:#3ccccc">b</text>
<text class="lt" x="299.5" y="52" style="fill:#9ccc1c">c</text><text class="lt" x="325" y="70.5" style="fill:#3a2ee0">a</text><text class="lt" x="319" y="92.5" style="fill:#3ccccc">b</text>
<text class="ti" x="82" y="10">B<tspan class="sb" dy="2.5">y</tspan><tspan dy="-2.5" x="99">at</tspan><tspan x="114">t=</tspan></text><text class="nu" x="157" y="10">44.0</text>
<text class="ti" x="318" y="10">N<tspan x="331">at</tspan><tspan x="346">t=</tspan></text><text class="nu" x="390" y="10">44.0</text>
<text class="ti" x="548" y="10">V<tspan class="sb" dy="2.5">x</tspan><tspan dy="-2.5" x="567">at</tspan><tspan x="589">t=</tspan></text><text class="nu" x="633" y="10">44.0</text>
<g class="k">
<text class="m" x="35" y="145.5">0</text><text class="m" x="62.9" y="145.5">-6</text><text class="m" x="90.8" y="145.5">-12</text><text class="m" x="118.7" y="145.5">-18</text><text class="m" x="146.6" y="145.5">-24</text><text class="m" x="174.5" y="145.5">-30</text><text class="m" x="202.4" y="145.5">-36</text>
<text class="e" x="32" y="19.5">12</text><text class="e" x="32" y="47.5">6</text><text class="e" x="32" y="75.5">0</text><text class="e" x="32" y="103.5">-6</text><text class="e" x="32" y="131.5">-12</text>
<text class="e" x="227" y="17.5">1.0</text><text class="e" x="227" y="46.5">0.5</text><text class="e" x="227" y="75.5">0.0</text><text class="e" x="227" y="104.5">-0.5</text><text class="e" x="227" y="133.5">-1.0</text>
<text class="m" x="120" y="155">X(R<tspan font-size="7" dy="2">E</tspan><tspan dy="-2">)</tspan></text>
<text class="m" transform="translate(12,72) rotate(-90)">Z(R<tspan font-size="7" dy="2">E</tspan><tspan dy="-2">)</tspan></text>
<text class="m" x="268" y="145.5">0</text><text class="m" x="295.9" y="145.5">-6</text><text class="m" x="323.8" y="145.5">-12</text><text class="m" x="351.7" y="145.5">-18</text><text class="m" x="379.6" y="145.5">-24</text><text class="m" x="407.5" y="145.5">-30</text><text class="m" x="435.4" y="145.5">-36</text>
<text class="e" x="265" y="19.5">12</text><text class="e" x="265" y="47.5">6</text><text class="e" x="265" y="75.5">0</text><text class="e" x="265" y="103.5">-6</text><text class="e" x="265" y="131.5">-12</text>
<text x="447" y="17.5">8.0</text><text x="447" y="46.5">6.0</text><text x="447" y="75.5">4.0</text><text x="447" y="104.5">2.0</text><text x="447" y="133.5">0.0</text>
<text class="m" x="353" y="155">X(R<tspan font-size="7" dy="2">E</tspan><tspan dy="-2">)</tspan></text>
<text class="m" transform="translate(244,72) rotate(-90)">Z(R<tspan font-size="7" dy="2">E</tspan><tspan dy="-2">)</tspan></text>
<text class="m" x="502" y="145.5">0</text><text class="m" x="529.9" y="145.5">-6</text><text class="m" x="557.8" y="145.5">-12</text><text class="m" x="585.7" y="145.5">-18</text><text class="m" x="613.6" y="145.5">-24</text><text class="m" x="641.5" y="145.5">-30</text><text class="m" x="669.4" y="145.5">-36</text>
<text class="e" x="499" y="19.5">12</text><text class="e" x="499" y="47.5">6</text><text class="e" x="499" y="75.5">0</text><text class="e" x="499" y="103.5">-6</text><text class="e" x="499" y="131.5">-12</text>
<text x="681" y="17.5">0.9</text><text x="681" y="46.5">0.6</text><text x="681" y="75.5">0.3</text><text x="681" y="104.5">0.0</text><text x="677" y="133.5">-0.3</text>
<text class="m" x="588" y="155">x(R<tspan font-size="7" dy="2">E</tspan><tspan dy="-2">)</tspan></text>
<text class="m" transform="translate(478,72) rotate(-90)">z(R<tspan font-size="7" dy="2">E</tspan><tspan dy="-2">)</tspan></text>
</g>
</g>
</svg>
</body></html>
